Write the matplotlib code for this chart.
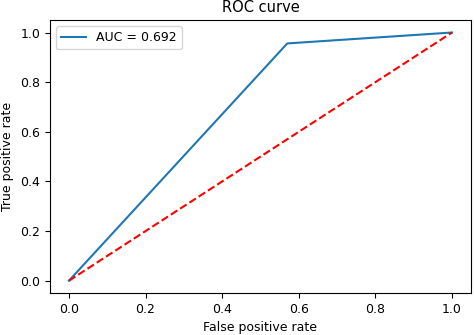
import matplotlib
matplotlib.use('Agg')
import matplotlib.pyplot as plt

# ROC points
fpr = [0.0, 0.57, 1.0]
tpr = [0.0, 0.956, 1.0]
auc_label = 'AUC = 0.692'
chance = [0.0, 1.0]

fig = plt.figure(figsize=(4.74, 3.35), dpi=100)
ax = fig.add_axes([0.105, 0.125, 0.889, 0.815])
ax.plot(fpr, tpr, color='#1f77b4', lw=1.5, label=auc_label)
ax.plot(chance, chance, 'r--', lw=1.5)
ax.set_xlabel('False positive rate', fontsize=9)
ax.set_ylabel('True positive rate', fontsize=9)
ax.set_title('ROC curve', fontsize=10.5)
ax.tick_params(labelsize=9)
ax.legend(loc='upper left', fontsize=9)
fig.savefig('out.png', dpi=100)
